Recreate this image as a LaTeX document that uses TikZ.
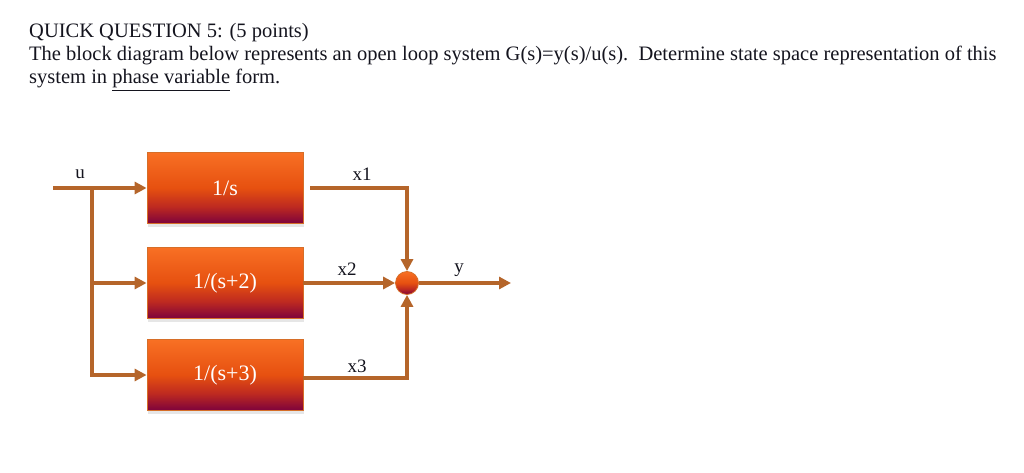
\documentclass[tikz,border=0pt]{standalone}
\usepackage{fontspec}
\setmainfont{Liberation Serif}
\usetikzlibrary{arrows.meta,shadows}

\definecolor{trait}{RGB}{181,101,42}
\definecolor{haut}{RGB}{248,112,36}
\definecolor{milieu}{RGB}{230,80,16}
\definecolor{rouge}{RGB}{190,42,32}
\definecolor{bas}{RGB}{125,2,60}
\definecolor{bord}{RGB}{214,110,40}
\definecolor{encre}{RGB}{20,20,30}

\pgfdeclareverticalshading{degrade}{100bp}{color(0bp)=(bas); color(25bp)=(bas);
	color(37bp)=(rouge); color(50bp)=(milieu); color(75bp)=(haut); color(100bp)=(haut)}

\begin{document}
\begin{tikzpicture}[
			x=1pt, y=-1pt,
			titre/.style={anchor=base west, inner sep=0pt, text=encre,
					font=\fontsize{20.5}{24}\selectfont},
			bloc/.style={
					draw=bord,
					line width=0.8pt,
					shading=degrade,
					text=white,
					font=\fontsize{22}{24}\selectfont,
					minimum width=156pt,
					minimum height=71pt,
					inner sep=0pt,
					drop shadow={shadow xshift=1pt, shadow yshift=-3pt, opacity=0.2}
				},
			somme/.style={circle, draw=bord, line width=0.8pt,
					shading=degrade,
					minimum size=23pt, inner sep=0pt},
			fleche/.style={draw=trait, line width=3.5pt,
					-{Triangle[length=12pt,width=12pt]}},
			etiq/.style={text=encre, inner sep=0pt,
					font=\fontsize{19}{21}\selectfont}
		]
		\useasboundingbox (0,0) rectangle (1024,473);

		% enonce
		\node[titre] (ligne1) at (29,38) {QUICK QUESTION 5: (5 points)};
		\node[titre] (ligne2) at (29,61) {The block diagram below represents an open loop system G(s)=y(s)/u(s).\ \ Determine state space representation of this};
		\node[titre] (ligne3) at (29,84) {system in \underline{phase variable} form.};

		% blocs
		\node[bloc] (b1) at (225,188) {1/s};
		\node[bloc] (b2) at (225,283) {1/(s+2)};
		\node[bloc] (b3) at (225,375) {1/(s+3)};
		\node[somme] (sum) at (407,283) {};

		\coordinate (entree) at (53,188);
		\coordinate (branche) at (92,188);
		\coordinate (sortie) at (511,283);

		% liaisons
		\draw[fleche] (entree) -- (b1.west);
		\draw[fleche] (branche) |- (b2.west);
		\draw[fleche] (branche) |- (b3.west);
		\draw[fleche] ([xshift=7pt]b1.east) -| (sum.north);
		\draw[fleche] (b2.east) -- (sum.west);
		\draw[fleche] ([yshift=-3pt]b3.east) -| (sum.south);
		\draw[fleche] (sum.east) -- (sortie);

		% etiquettes
		\node[etiq] (lu) at (80,174) {u};
		\node[etiq] (lx1) at (362,174) {x1};
		\node[etiq] (lx2) at (347,269) {x2};
		\node[etiq] (ly) at (459,270) {y};
		\node[etiq] (lx3) at (357,366) {x3};
	\end{tikzpicture}
\end{document}
